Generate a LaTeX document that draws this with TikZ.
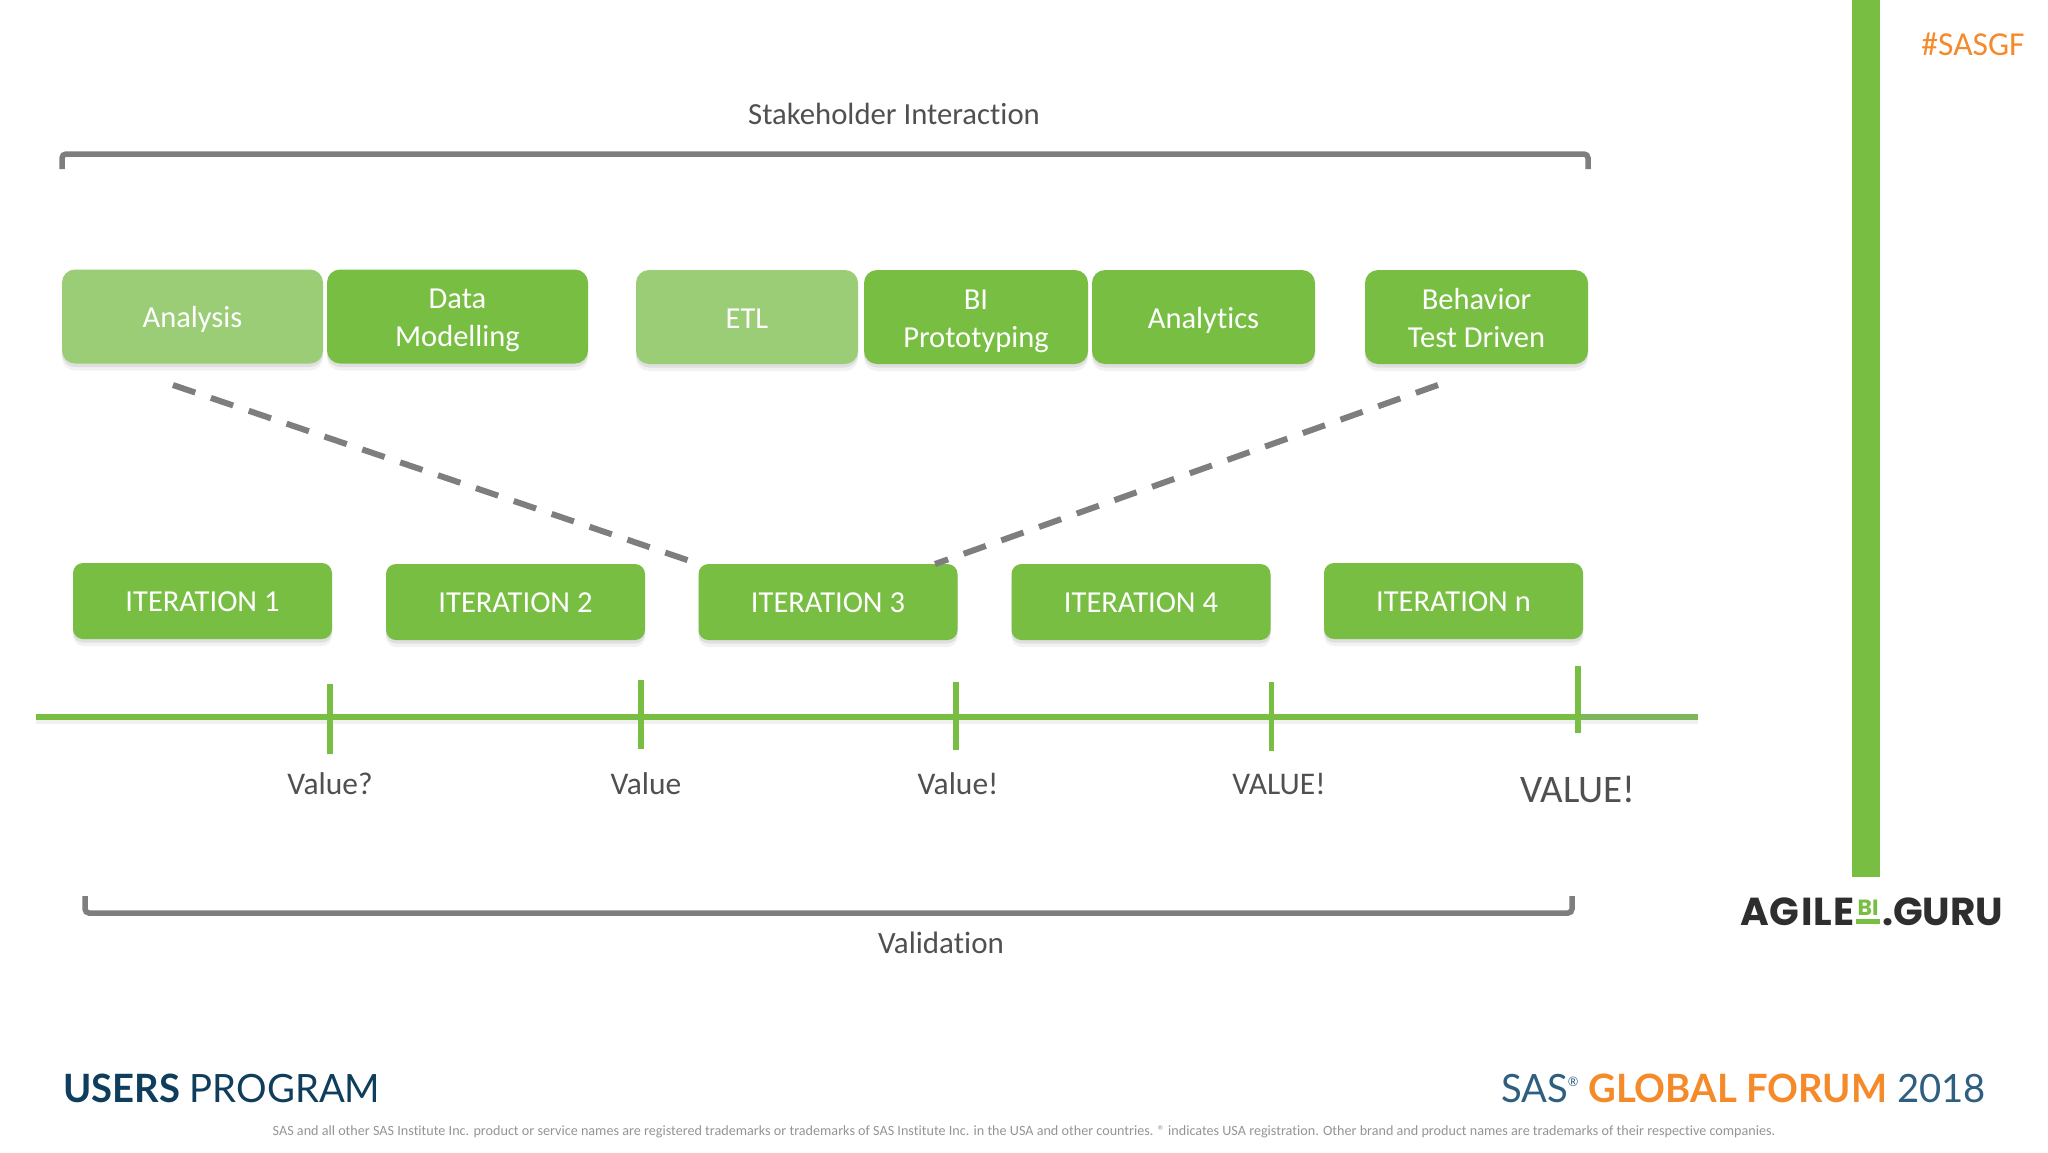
\documentclass[tikz,border=0pt]{standalone}
\usepackage{fontspec}
\setmainfont{Carlito}[Ligatures=NoCommon]
\newfontfamily\logofont{Poppins}
\newfontfamily\agilefont{Poppins}[LetterSpace=3.3]
\newfontfamily\sasfont{Lato}[FakeStretch=0.98]
\usetikzlibrary{shadows}

\definecolor{agilegreen}{HTML}{78BE43}
\definecolor{palegreen}{HTML}{9BCC76}
\definecolor{fadegreen}{HTML}{7DB65C}
\definecolor{labelgrey}{HTML}{505052}
\definecolor{bracketgrey}{HTML}{7E7E80}
\definecolor{sasorange}{HTML}{F58A2A}
\definecolor{sasblue}{HTML}{2F5F80}
\definecolor{usersblue}{HTML}{0F3D5C}

% same line box for every line inside the green boxes
\newcommand{\boxline}{\rule[-9pt]{0pt}{38pt}}
\newcommand{\taskline}{\rule[-8pt]{0pt}{38pt}}

\tikzset{
    softshadow/.style={
        drop shadow={shadow xshift=0pt, shadow yshift=-7pt, opacity=0.05, fill=black},
        drop shadow={shadow xshift=0pt, shadow yshift=-3.5pt, opacity=0.08, fill=black}},
    taskbox/.style={rounded corners=13pt, fill=agilegreen, text=white, align=center, inner sep=0pt, minimum height=94pt, softshadow, font=\fontsize{30.5}{38}\selectfont},
    paletask/.style={taskbox, fill=palegreen},
    iterbox/.style={rounded corners=10pt, fill=agilegreen, text=white, inner sep=0pt, minimum width=259pt, minimum height=76pt, softshadow, font=\fontsize{30.5}{38}\selectfont},
    bracket/.style={draw=bracketgrey, line width=5.5pt, rounded corners=4pt},
    dashline/.style={draw=bracketgrey, line width=6pt, dash pattern=on 23.5pt off 16.5pt},
    valuelabel/.style={text=labelgrey, inner sep=0pt, font=\fontsize{31.5}{38}\selectfont},
}

\begin{document}
\begin{tikzpicture}[x=1pt, y=-1pt]
        \useasboundingbox (0,0) rectangle (2048,1152);

        % Side bar and tag
        \fill[agilegreen] (1852,0) rectangle (1880,877);
        \node[text=sasorange, inner sep=0pt, font=\fontsize{33.5}{38}\selectfont] (tag) at (1973,44) {\#SASGF};

        % Stakeholder bracket
        \node[valuelabel, font=\fontsize{30.7}{38}\selectfont] (stakeholder) at (894,114) {Stakeholder Interaction};
        \draw[bracket] (62,169) -- (62,154) -- (1588,154) -- (1588,169);

        % Tasks
        \node[paletask, minimum width=261pt] (analysis) at (192.5,316.5) {Analysis\taskline};
        \node[taskbox, minimum width=261pt] (modelling) at (457.5,316.5) {Data\taskline\\Modelling\taskline};
        \node[paletask, minimum width=222pt] (etl) at (747,317) {ETL\taskline};
        \node[taskbox, minimum width=224pt] (prototyping) at (976,317) {BI\taskline\\Prototyping\taskline};
        \node[taskbox, minimum width=223pt] (analytics) at (1203.5,317) {Analytics\taskline};
        \node[taskbox, minimum width=223pt] (behavior) at (1476.5,317) {Behavior\taskline\\Test Driven\taskline};

        % Iterations
        \node[iterbox] (iter1) at (202.5,601) {ITERATION 1\boxline};
        \node[iterbox] (iter2) at (515.5,602) {ITERATION 2\boxline};
        \node[iterbox] (iter3) at (828,602) {ITERATION 3\boxline};
        \node[iterbox] (iter4) at (1141,602) {ITERATION 4\boxline};
        \node[iterbox] (itern) at (1453.5,601) {ITERATION n\boxline};

        % Dashed lines down to the third iteration
        \coordinate (analysis-foot) at (173,385);
        \coordinate (behavior-foot) at (1438,385);
        \coordinate (iter3-right) at (935,564);
        \draw[dashline] (analysis-foot) -- (iter3.north west);
        \draw[dashline] (behavior-foot) -- (iter3-right);

        % Time axis
        \draw[black, opacity=0.06, line width=6pt] (36,721) -- (1698,721);
        \draw[agilegreen, line width=6pt] (36,717) -- (1698,717);
        \draw[fadegreen, line width=6pt] (1578,717) -- (1698,717);
        \foreach \tickx/\ticktop/\tickbottom in {330/684/754, 641/680/749, 956/682/750, 1271.5/682/751, 1578/666/733} {
            \draw[agilegreen, line width=5.5pt] (\tickx,\ticktop) -- (\tickx,\tickbottom);
        }

        % Labels for the values
        \node[valuelabel] (value1) at (330,784) {Value?};
        \node[valuelabel] (value2) at (646,784) {Value};
        \node[valuelabel] (value3) at (958,784) {Value!};
        \node[valuelabel] (value4) at (1279,784) {VALUE!};
        \node[valuelabel, font=\fontsize{39}{44}\selectfont] (value5) at (1578,789) {VALUE!};

        % Validation bracket
        \draw[bracket] (85,896) -- (85,913) -- (1572,913) -- (1572,896);
        \node[valuelabel, font=\fontsize{31}{38}\selectfont] (validation) at (941,943) {Validation};

        % Logo
        \node[anchor=base east, inner sep=0pt, text=black!82, font=\agilefont\bfseries\fontsize{39}{42}\selectfont] (agile) at (1855,925) {AGILE};
        \node[anchor=base, inner sep=0pt, text=agilegreen, font=\logofont\bfseries\fontsize{22}{26}\selectfont] (bi) at (1868,915) {BI};
        \fill[agilegreen] (1856,919) rectangle (1880,924);
        \node[anchor=base west, inner sep=0pt, text=black!82, font=\logofont\bfseries\fontsize{39}{42}\selectfont] (guru) at (1882,925) {.GURU};

        % Footer
        \node[anchor=west, inner sep=0pt, text=usersblue, font=\sasfont\fontsize{39}{44}\selectfont] (users) at (63,1088) {\textbf{USERS} PROGRAM};
        \node[anchor=east, inner sep=0pt, text=sasblue, font=\sasfont\fontsize{39}{44}\selectfont] (forum) at (1986,1088) {SAS\raisebox{16pt}{\fontsize{13}{13}\selectfont\textregistered} \textcolor{sasorange}{\textbf{GLOBAL FORUM}} 2018};
        \node[inner sep=0pt, text=black!42, font=\fontsize{14.15}{16}\selectfont] (legal) at (1024,1132) {SAS and all other SAS Institute Inc. product or service names are registered trademarks or trademarks of SAS Institute Inc. in the USA and other countries. \textregistered{} indicates USA registration. Other brand and product names are trademarks of their respective companies.};
\end{tikzpicture}
\end{document}
